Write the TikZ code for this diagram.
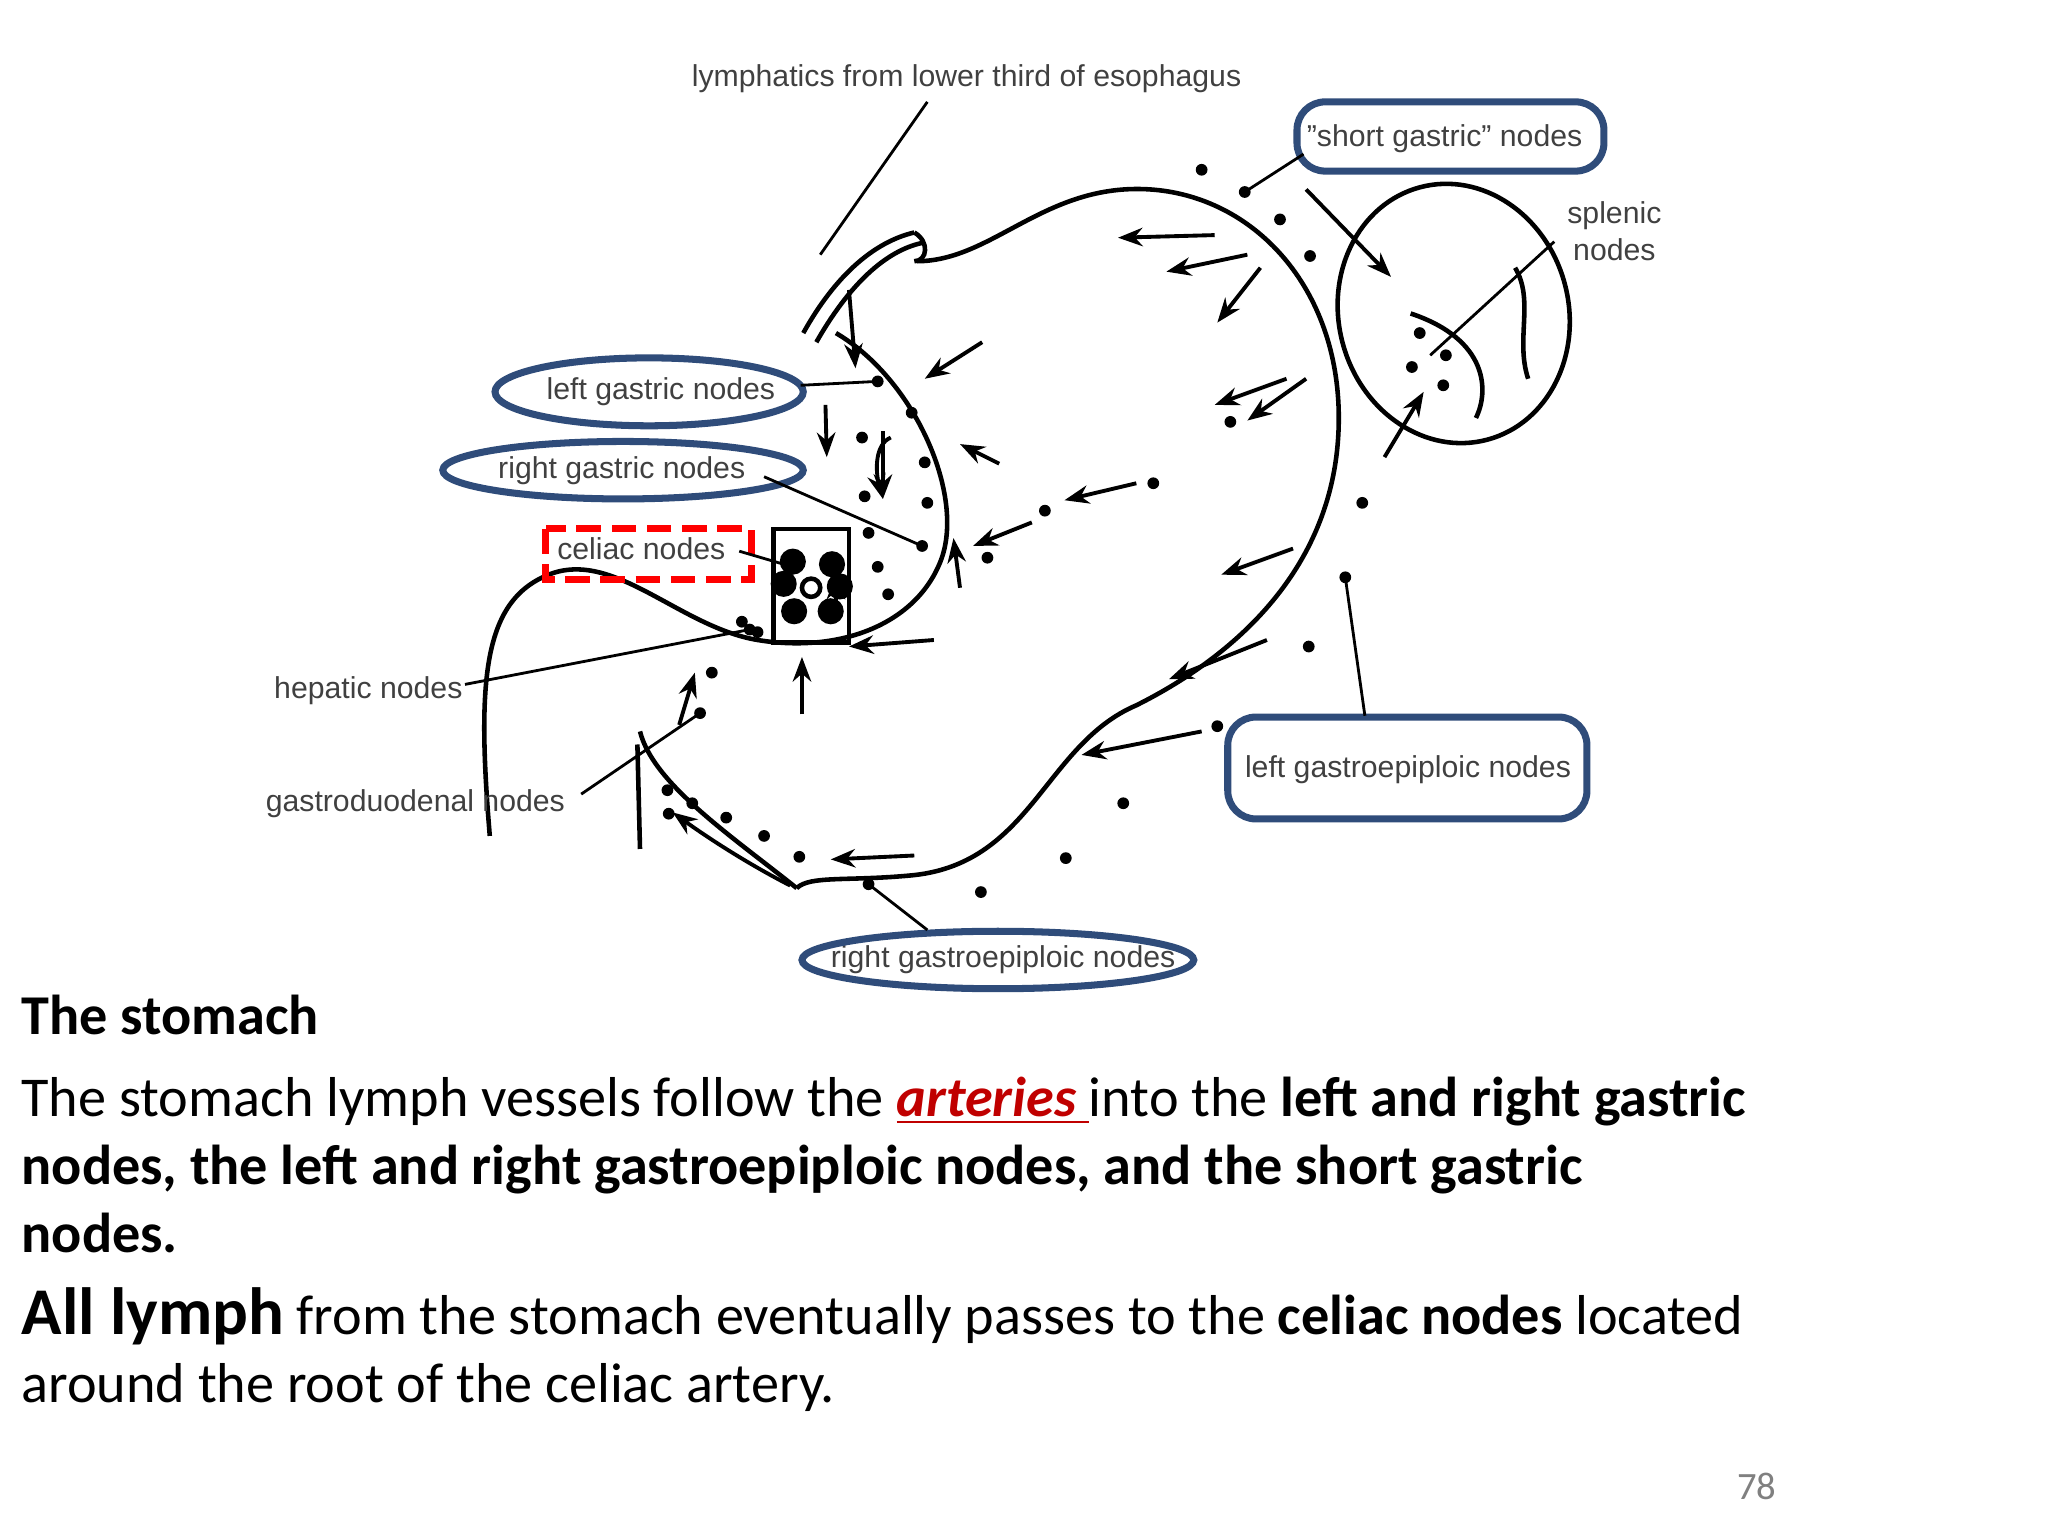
\documentclass[tikz,border=0pt]{standalone}
\usepackage{fontspec}
\setmainfont{Carlito}
\setsansfont{Liberation Sans}
\usetikzlibrary{arrows.meta}
\definecolor{boxblue}{RGB}{47,76,122}
\definecolor{linkred}{RGB}{192,0,0}
\tikzset{
  organ/.style={line width=1.3pt},
  flow/.style={line width=1.1pt,-{Stealth[length=7pt]}},
  lead/.style={line width=0.8pt},
  lbl/.style={font=\sffamily\fontsize{8.6}{10.5}\selectfont,text=black!75,inner sep=1pt},
  ring/.style={draw=boxblue,line width=2pt},
  body/.style={anchor=base west,inner sep=0pt,font=\fontsize{16}{19}\selectfont},
}
\begin{document}
\begin{tikzpicture}[x=0.01306cm,y=-0.01306cm]
\useasboundingbox (0,0) rectangle (1568,1176);

% esophagus
\draw[organ] (615,255) .. controls (640,210) and (670,185) .. (700,178);
\draw[organ] (625,262) .. controls (650,218) and (678,192) .. (706,186);
\draw[organ] (700,178) .. controls (712,185) and (710,200) .. (700,200);
% stomach outline
\draw[organ] (702,200) .. controls (760,200) and (800,140) .. (880,145)
  .. controls (960,150) and (1025,220) .. (1025,320)
  .. controls (1025,430) and (950,500) .. (870,540)
  .. controls (800,570) and (790,660) .. (700,670) .. controls (650,675) and (620,670) .. (610,680);
\draw[organ] (640,255) .. controls (700,290) and (740,380) .. (720,430)
  .. controls (700,480) and (640,500) .. (580,490)
  .. controls (520,480) and (470,420) .. (420,440)
  .. controls (370,460) and (365,520) .. (375,640);
\draw[organ] (490,560) .. controls (500,600) and (560,640) .. (610,680);
\draw[organ] (488,570) -- (490,650);
% celiac trunk
\draw[organ] (592,405) rectangle (650,492);
\draw[organ] (621,450) circle (7);
\foreach \p in {(607,430),(637,432),(608,468),(636,468),(600,447),(643,449)}
  \fill \p circle (10);
% spleen
\draw[organ,rotate around={15:(1113,240)}] (1113,240) ellipse (88 and 100);
\draw[organ] (1080,240) .. controls (1140,260) and (1140,300) .. (1130,320);
\draw[organ] (1160,205) .. controls (1175,230) and (1160,260) .. (1170,290);
% small nodes
\foreach \p/\n in {{672,292}/lg,{706,418}/rg,{756,427}/sp1,{953,147}/sg,{1030,442}/lge,
   {932,556}/lge2,{665,677}/rge,{536,546}/gd,{574,482}/he}
  {\fill (\p) circle (4.5) coordinate (\n);}
\foreach \p in {(920,130),(980,168),(1003,196),(698,316),(708,354),(710,385),(660,335),(662,380),(665,408),
  (672,434),(680,455),(568,476),(580,484),(545,515),(942,323),(883,370),(800,391),(1043,385),(1002,495),
  (860,615),(816,657),(751,683),(612,656),(585,640),(556,626),(530,615),(511,605),(512,623),(1087,255),(1107,272),
  (1081,281),(1105,295)}
  \fill \p circle (4.5);
% flow arrows
\foreach \a/\b in {{650,222}/{655,282},{752,262}/{708,290},{632,310}/{633,350},{676,330}/{676,382},
  {765,355}/{735,340},{735,450}/{730,412},{930,180}/{856,182},{955,195}/{893,208},{965,205}/{932,247},
  {985,290}/{930,310},{1000,290}/{955,322},{870,370}/{815,383},{790,400}/{745,418},{1000,145}/{1065,212},
  {1060,350}/{1090,300},{990,420}/{935,440},{970,490}/{895,520},{920,560}/{828,578},{640,475}/{640,440},
  {715,490}/{650,495},{614,547}/{614,503},{520,555}/{532,515},{700,655}/{636,658}}
  \draw[flow] (\a) -- (\b);
\draw[flow] (682,335) .. controls (670,340) and (670,360) .. (676,382);
\draw[flow] (605,678) .. controls (570,660) and (540,640) .. (515,622);
% labels
\node[lbl] (eso) at (740,60) {lymphatics from lower third of esophagus};
\draw[lead] (710,78) -- (628,195);
\node[lbl] (lgl) at (506,300) {left gastric nodes};
\draw[ring] (497,300) ellipse (118 and 26);
\draw[lead] (613,295) -- (lg);
\node[lbl] (rgl) at (476,360) {right gastric nodes};
\draw[ring] (477,360) ellipse (138 and 22);
\draw[lead] (585,365) -- (rg);
\node[lbl] (cel) at (491,420) {celiac nodes};
\draw[red,dash pattern=on 7pt off 3pt,line width=2pt] (418,405) rectangle (575,444);
\draw[lead] (566,422) -- (600,432);
\node[lbl] (sgl) at (1106,106) {\symbol{34}short gastric\symbol{34} nodes};
\draw[ring,rounded corners=8] (993,78) rectangle (1228,131);
\draw[lead] (998,118) -- (sg);
\node[lbl,align=center] (spl) at (1236,177) {splenic\\nodes};
\draw[lead] (1190,185) -- (1095,272);
\node[lbl] (hep) at (282,529) {hepatic nodes};
\draw[lead] (356,524) -- (he);
\node[lbl] (gdl) at (318,615) {gastroduodenal nodes};
\draw[lead] (445,608) -- (gd);
\node[lbl] (lgel) at (1078,589) {left gastroepiploic nodes};
\draw[ring,rounded corners=8] (940,549) rectangle (1215,627);
\draw[lead] (1045,548) -- (lge);
\node[lbl] (rgel) at (768,735) {right gastroepiploic nodes};
\draw[ring] (764,735) ellipse (150 and 22);
\draw[lead] (710,712) -- (rge);
% text
\node[body] at (16,792) {\bfseries The stomach};
\node[body] at (16,855) {The stomach lymph vessels follow the \textcolor{linkred}{\bfseries\itshape\underline{arteries }}into the \textbf{left and right gastric}};
\node[body] at (16,907) {\bfseries nodes, the left and right gastroepiploic nodes, and the short gastric};
\node[body] at (16,959) {\bfseries nodes.};
\node[body] at (16,1022) {\fontsize{19}{23}\selectfont\bfseries All lymph\fontsize{16}{19}\selectfont\mdseries\ from the stomach eventually passes to the \textbf{celiac nodes} located};
\node[body] at (16,1074) {around the root of the celiac artery.};
\node[anchor=base,font=\fontsize{11}{13}\selectfont,text=black!50] at (1345,1148) {78};
\end{tikzpicture}
\end{document}
